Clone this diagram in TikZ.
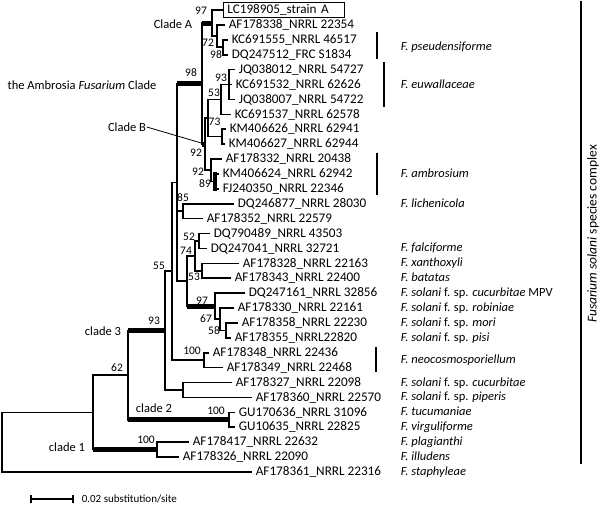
\documentclass[tikz,border=0pt]{standalone}
\usepackage{fontspec}
\setmainfont{Carlito}
\usetikzlibrary{positioning}

\newcommand{\lbl}{\fontsize{12.5}{14}\selectfont}
\newcommand{\leaflbl}{\fontsize{13.2}{15}\selectfont}
\newcommand{\bslbl}{\fontsize{11.5}{13}\selectfont}

\tikzset{
	leaf/.style={anchor=west,inner xsep=4pt,inner ysep=0pt,text height=8.5pt,text depth=1pt,font=\leaflbl},
	taxon/.style={anchor=west,inner sep=0pt,text height=8pt,text depth=1pt,font=\lbl},
	boot/.style={inner sep=0pt,font=\bslbl},
	cladelbl/.style={inner sep=0pt,font=\lbl},
	stem/.style={line width=5pt,line cap=butt},
	bracket/.style={line width=1.5pt}
}

\begin{document}
\begin{tikzpicture}[x=1pt,y=-1pt,line width=1.6pt,line cap=rect]
				\useasboundingbox (0,0) rectangle (600,507);
				% leaves
				\node[leaf,draw,line width=0.8pt,text width=113pt,inner ysep=3pt] (t1) at (223,10.0) {LC198905\_strain A};
				\node[leaf] (t2) at (224,24.9) {AF178338\_NRRL 22354};
				\node[leaf] (t3) at (227,39.8) {KC691555\_NRRL 46517};
				\node[leaf] (t4) at (227,54.7) {DQ247512\_FRC S1834};
				\node[leaf] (t5) at (234,69.6) {JQ038012\_NRRL 54727};
				\node[leaf] (t6) at (231,84.5) {KC691532\_NRRL 62626};
				\node[leaf] (t7) at (234,99.4) {JQ038007\_NRRL 54722};
				\node[leaf] (t8) at (230,114.3) {KC691537\_NRRL 62578};
				\node[leaf] (t9) at (225,129.2) {KM406626\_NRRL 62941};
				\node[leaf] (t10) at (224,144.1) {KM406627\_NRRL 62944};
				\node[leaf] (t11) at (221,159.0) {AF178332\_NRRL 20438};
				\node[leaf] (t12) at (218,173.9) {KM406624\_NRRL 62942};
				\node[leaf] (t13) at (218,188.8) {FJ240350\_NRRL 22346};
				\node[leaf] (t14) at (233,203.7) {DQ246877\_NRRL 28030};
				\node[leaf] (t15) at (202,218.6) {AF178352\_NRRL 22579};
				\node[leaf] (t16) at (209,233.5) {DQ790489\_NRRL 43503};
				\node[leaf] (t17) at (206,248.4) {DQ247041\_NRRL 32721};
				\node[leaf] (t18) at (238,263.3) {AF178328\_NRRL 22163};
				\node[leaf] (t19) at (230,278.2) {AF178343\_NRRL 22400};
				\node[leaf] (t20) at (244,293.1) {DQ247161\_NRRL 32856};
				\node[leaf] (t21) at (233,308.0) {AF178330\_NRRL 22161};
				\node[leaf] (t22) at (237,322.9) {AF178358\_NRRL 22230};
				\node[leaf] (t23) at (230,337.8) {AF178355\_NRRL22820};
				\node[leaf] (t24) at (208,352.7) {AF178348\_NRRL 22436};
				\node[leaf] (t25) at (222,367.6) {AF178349\_NRRL 22468};
				\node[leaf] (t26) at (231,382.5) {AF178327\_NRRL 22098};
				\node[leaf] (t27) at (251,397.4) {AF178360\_NRRL 22570};
				\node[leaf] (t28) at (234,412.3) {GU170636\_NRRL 31096};
				\node[leaf] (t29) at (234,427.2) {GU10635\_NRRL 22825};
				\node[leaf] (t30) at (188,442.1) {AF178417\_NRRL 22632};
				\node[leaf] (t31) at (178,457.0) {AF178326\_NRRL 22090};
				\node[leaf] (t32) at (251,471.9) {AF178361\_NRRL 22316};

				% inner nodes
				\coordinate (nCA) at (212,23.05);
				\coordinate (n72) at (217,36.1);
				\coordinate (n98) at (223,47.25);
				\coordinate (n93) at (229,84.5);
				\coordinate (n53a) at (221,99.4);
				\coordinate (nKM) at (222,136.65);
				\coordinate (n73) at (208,118.0);
				\coordinate (n89) at (215,181.35);
				\coordinate (n92) at (211,170.2);
				\coordinate (nCB) at (205,144.1);
				\coordinate (nAmb) at (202,83.6);
				\coordinate (n85) at (183,211.15);
				\coordinate (n52) at (199,240.95);
				\coordinate (n53b) at (202,270.75);
				\coordinate (n74) at (195,255.85);
				\coordinate (n58) at (226,330.35);
				\coordinate (n67) at (220,319.2);
				\coordinate (n97) at (215,306.15);
				\coordinate (nFS) at (187,281.0);
				\coordinate (nPol) at (177,182.3);
				\coordinate (nNeo) at (204,360.15);
				\coordinate (n55) at (172,271.2);
				\coordinate (nCuc) at (183,389.95);
				\coordinate (nC3) at (165,330.6);
				\coordinate (nC2) at (229,419.75);
				\coordinate (n62) at (128,375.2);
				\coordinate (nC1) at (157,449.55);
				\coordinate (nBase) at (93,412.4);
				\coordinate (nRoot) at (2,442.15);

				% vertical bars of the inner nodes
				\foreach \p/\a/\b in {nCA/t1.west/n72, n72/t2.west/n98, n98/t3.west/t4.west,
						nAmb/nCA/nCB, nCB/n73/n92, n73/n53a/nKM, n53a/n93/t8.west, n93/t5.west/t7.west,
						nKM/t9.west/t10.west, n92/t11.west/n89, nPol/nAmb/nFS, n85/t14.west/t15.west,
						nFS/n74/n97, n74/n52/n53b, n52/t16.west/t17.west, n53b/t18.west/t19.west,
						n97/t20.west/n67, n67/t21.west/n58, n58/t22.west/t23.west, n55/nPol/nNeo,
						nNeo/t24.west/t25.west, nC3/n55/nCuc, nCuc/t26.west/t27.west, n62/nC3/nC2,
						nC2/t28.west/t29.west, nBase/n62/nC1, nC1/t30.west/t31.west, nRoot/nBase/t32.west}
					\draw (\p |- \a) -- (\p |- \b);
				\draw[line width=3.5pt] (n89 |- t12.west) -- (n89 |- t13.west);

				% branches
				\foreach \p/\c in {nCA/t1.west, n72/t2.west, n72/n98, n98/t3.west, n98/t4.west,
						nCA/n72, nCB/n73, nCB/n92, n73/n53a, n73/nKM, n53a/n93, n53a/t8.west,
						n93/t5.west, n93/t6.west, n93/t7.west, nKM/t9.west, nKM/t10.west,
						n92/t11.west, n92/n89, n89/t12.west, n89/t13.west,
						nPol/nAmb, nPol/n85, nPol/nFS, n85/t14.west, n85/t15.west,
						nFS/n74, nFS/n97, n74/n52, n74/n53b, n52/t16.west, n52/t17.west,
						n53b/t18.west, n53b/t19.west, n97/t20.west, n97/n67, n67/t21.west, n67/n58,
						n58/t22.west, n58/t23.west, n55/nPol, n55/nNeo, nNeo/t24.west, nNeo/t25.west,
						nC3/n55, nC3/nCuc, nCuc/t26.west, nCuc/t27.west, n62/nC3, n62/nC2,
						nC2/t28.west, nC2/t29.west, nBase/n62, nBase/nC1, nC1/t30.west, nC1/t31.west,
						nRoot/nBase, nRoot/t32.west}
					\draw (\p |- \c) -- (\c);
				\foreach \p/\c in {nPol/nAmb, nAmb/nCA, nAmb/nCB, nFS/n97, n62/nC3, n62/nC2, nBase/nC1}
					\draw[stem] (\p |- \c) -- (\c);

				% support values
				\node[boot] (b1) at (201,11) {97};
				\node[boot] (b2) at (208,43) {72};
				\node[boot] (b3) at (216,55) {98};
				\node[boot] (b4) at (191,73) {98};
				\node[boot] (b5) at (221,78) {93};
				\node[boot] (b6) at (214,92.5) {53};
				\node[boot] (b7) at (214.5,121.5) {73};
				\node[boot] (b8) at (196,153) {92};
				\node[boot] (b9) at (198,172) {92};
				\node[boot] (b10) at (205,184) {89};
				\node[boot] (b11) at (183,198) {85};
				\node[boot] (b12) at (189,237) {52};
				\node[boot] (b13) at (186,251) {74};
				\node[boot] (b14) at (159,266) {55};
				\node[boot] (b15) at (194,277) {53};
				\node[boot] (b16) at (202,301) {97};
				\node[boot] (b17) at (206,319) {67};
				\node[boot] (b18) at (214,331) {58};
				\node[boot] (b19) at (154,321) {93};
				\node[boot] (b20) at (192,351) {100};
				\node[boot] (b21) at (117,368) {62};
				\node[boot] (b22) at (216,411) {100};
				\node[boot] (b23) at (146,440) {100};

				% clade names
				\node[cladelbl] (lA) at (173,24) {Clade A};
				\node[cladelbl] (lAmb) at (82,85) {the Ambrosia \textit{Fusarium} Clade};
				\node[cladelbl] (lB) at (127,127) {Clade B};
				\node[cladelbl] (l3) at (103,331) {clade 3};
				\node[cladelbl] (l2) at (154,408) {clade 2};
				\node[cladelbl] (l1) at (67,447) {clade 1};
				\draw[line width=0.8pt,line cap=butt] (lB.east) -- (nCB);

				% species
				\node[taxon] (s1) at (400,47.25) {\textit{F. pseudensiforme}};
				\node[taxon] (s2) at (400,84.5) {\textit{F. euwallaceae}};
				\node[taxon] (s3) at (400,173.9) {\textit{F. ambrosium}};
				\node[taxon] (s4) at (400,203.7) {\textit{F. lichenicola}};
				\node[taxon] (s5) at (400,248.4) {\textit{F. falciforme}};
				\node[taxon] (s6) at (400,263.3) {\textit{F. xanthoxyli}};
				\node[taxon] (s7) at (400,278.2) {\textit{F. batatas}};
				\node[taxon] (s8) at (400,293.1) {\textit{F. solani} f. sp. \textit{cucurbitae} MPV};
				\node[taxon] (s9) at (400,308.0) {\textit{F. solani} f. sp. \textit{robiniae}};
				\node[taxon] (s10) at (400,322.9) {\textit{F. solani} f. sp. \textit{mori}};
				\node[taxon] (s11) at (400,337.8) {\textit{F. solani} f. sp. \textit{pisi}};
				\node[taxon] (s12) at (400,360.15) {\textit{F. neocosmosporiellum}};
				\node[taxon] (s13) at (400,382.5) {\textit{F. solani} f. sp. \textit{cucurbitae}};
				\node[taxon] (s14) at (400,397.4) {\textit{F. solani} f. sp. \textit{piperis}};
				\node[taxon] (s15) at (400,412.3) {\textit{F. tucumaniae}};
				\node[taxon] (s16) at (400,427.2) {\textit{F. virguliforme}};
				\node[taxon] (s17) at (400,442.1) {\textit{F. plagianthi}};
				\node[taxon] (s18) at (400,457.0) {\textit{F. illudens}};
				\node[taxon] (s19) at (400,471.9) {\textit{F. staphyleae}};
				\draw[bracket] (377,33) -- (377,58);
				\draw[bracket] (384,63) -- (384,106);
				\draw[bracket] (377,154) -- (377,194);
				\draw[bracket] (376,348) -- (376,371);
				\draw[bracket] (581,2) -- (581,463);
				\node[cladelbl,rotate=90,font=\fontsize{13.5}{15}\selectfont] (fssc) at (593,234) {\textit{Fusarium solani} species complex};

				% scale
				\coordinate (sbL) at (31,499);
				\coordinate (sbR) at (73,499);
				\draw[line width=1.2pt] (sbL) -- (sbR);
				\draw[line width=1.2pt] ([yshift=3pt]sbL) -- ([yshift=-3pt]sbL);
				\draw[line width=1.2pt] ([yshift=3pt]sbR) -- ([yshift=-3pt]sbR);
				\node[anchor=west,inner sep=0pt,font=\fontsize{11}{13}\selectfont] (sbT) at (81,499) {0.02 substitution/site};
\end{tikzpicture}
\end{document}
